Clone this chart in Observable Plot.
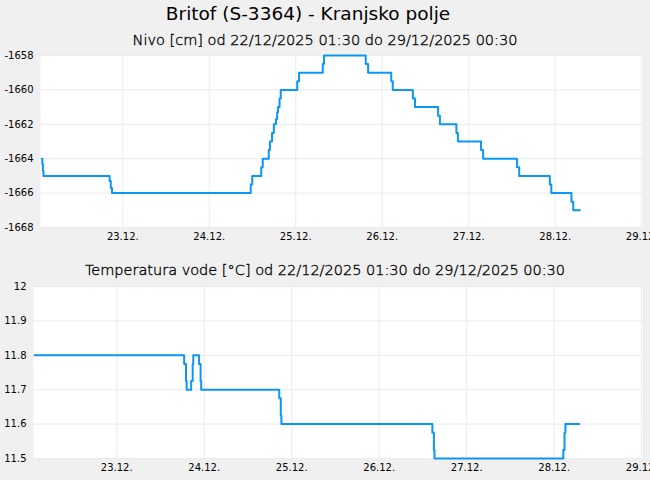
<!DOCTYPE html>
<html>
<head>
<meta charset="utf-8">
<script src="https://cdn.jsdelivr.net/npm/d3@7"></script>
<script src="https://cdn.jsdelivr.net/npm/@observablehq/plot@0.6"></script>
<style>
  html, body { margin: 0; padding: 0; background: #f0f0f0; }
  #wrap { position: relative; width: 650px; height: 480px; overflow: hidden; font-family: "DejaVu Sans", sans-serif; }
  .title { position: absolute; left: 0; top: 0; width: 616px; height: 28px; line-height: 28px; text-align: center; font-size: 18.5px; color: #000; }
  .sub { position: absolute; left: 0; width: 650px; height: 24px; line-height: 24px; text-align: center; font-size: 14.5px; color: #000; font-weight: 200; -webkit-text-stroke: 0.35px #000; }
  .chart { position: absolute; left: 0; }
</style>
</head>
<body>
<div id="wrap">
  <div class="title">Britof (S-3364) - Kranjsko polje</div>
  <div class="sub" style="top:28px">Nivo [cm] od 22/12/2025 01:30 do 29/12/2025 00:30</div>
  <div class="chart" id="c1" style="top:45px"></div>
  <div class="sub" style="top:258px">Temperatura vode [°C] od 22/12/2025 01:30 do 29/12/2025 00:30</div>
  <div class="chart" id="c2" style="top:276px"></div>
</div>
<script>
// ---- data ----
const dayTicks = ["2025-12-23","2025-12-24","2025-12-25","2025-12-26","2025-12-27","2025-12-28","2025-12-29"];
const xDomain = ["2025-12-22T01:10","2025-12-29T00:30"];

const nivoTicks = [-1668,-1666,-1664,-1662,-1660,-1658];
const nivoTime = [
  "2025-12-22T01:30","2025-12-22T01:40","2025-12-22T01:50","2025-12-22T02:00",
  "2025-12-22T20:20","2025-12-22T20:40","2025-12-22T21:00",
  "2025-12-24T11:30","2025-12-24T11:55",
  "2025-12-24T14:25","2025-12-24T14:50",
  "2025-12-24T16:30","2025-12-24T16:50",
  "2025-12-24T17:25","2025-12-24T17:55",
  "2025-12-24T18:30","2025-12-24T18:50","2025-12-24T19:05",
  "2025-12-24T19:30","2025-12-24T19:50",
  "2025-12-25T00:25","2025-12-25T00:55",
  "2025-12-25T07:30","2025-12-25T07:50",
  "2025-12-25T19:25","2025-12-25T20:05",
  "2025-12-26T02:30","2025-12-26T02:55",
  "2025-12-26T08:30","2025-12-26T09:05",
  "2025-12-26T15:30","2025-12-26T16:00",
  "2025-12-26T20:35","2025-12-26T21:00",
  "2025-12-27T03:25","2025-12-27T04:00",
  "2025-12-27T13:25","2025-12-27T14:00",
  "2025-12-27T22:30","2025-12-27T22:55",
  "2025-12-28T04:30","2025-12-28T05:00",
  "2025-12-28T06:50"
];
const nivoValue = [
  -1664,-1664.3,-1664.7,-1665,
  -1665.3,-1665.7,-1666,
  -1665.5,-1665,
  -1664.5,-1664,
  -1663.5,-1663,
  -1662.5,-1662,
  -1661.7,-1661.3,-1661,
  -1660.5,-1660,
  -1659.5,-1659,
  -1658.5,-1658,
  -1658.5,-1659,
  -1659.5,-1660,
  -1660.5,-1661,
  -1661.5,-1662,
  -1662.5,-1663,
  -1663.5,-1664,
  -1664.5,-1665,
  -1665.5,-1666,
  -1666.5,-1667,
  -1667
];

const tempTicks = [11.5,11.6,11.7,11.8,11.9,12];
const tempTime = [
  "2025-12-22T01:30",
  "2025-12-23T18:30","2025-12-23T19:00","2025-12-23T19:10",
  "2025-12-23T20:25","2025-12-23T20:50","2025-12-23T21:00",
  "2025-12-23T22:35","2025-12-23T23:00","2025-12-23T23:10",
  "2025-12-24T20:35","2025-12-24T21:00","2025-12-24T21:10",
  "2025-12-26T14:35","2025-12-26T15:00","2025-12-26T15:10",
  "2025-12-28T02:30","2025-12-28T02:50","2025-12-28T03:05",
  "2025-12-28T06:50"
];
const tempValue = [
  11.8,
  11.775,11.725,11.7,
  11.725,11.775,11.8,
  11.775,11.725,11.7,
  11.675,11.625,11.6,
  11.575,11.525,11.5,
  11.525,11.575,11.6,
  11.6
];

// ---- helpers ----
const utc = s => new Date(s.length === 10 ? s + "T00:00Z" : s + "Z");
const days = dayTicks.map(utc);
const dom = xDomain.map(utc);
const lineColor = "#0a98f5";
const gridColor = "#ebebeb";

function makeChart(times, values, yTicks, yDomain, marginLeft, fmt) {
  const data = times.map((t, i) => ({t: utc(t), v: values[i]}));
  return Plot.plot({
    width: 650,
    height: 204,
    marginTop: 10,
    marginBottom: 22,
    marginLeft,
    marginRight: 7,
    style: {fontFamily: "DejaVu Sans", fontSize: "10px", color: "#000", background: "transparent", overflow: "visible"},
    x: {type: "utc", domain: dom},
    y: {domain: yDomain},
    marks: [
      Plot.frame({fill: "white", stroke: null}),
      Plot.gridY(yTicks, {stroke: gridColor, strokeOpacity: 1}),
      Plot.gridX(days, {stroke: gridColor, strokeOpacity: 1}),
      Plot.ruleX([dom[1]], {stroke: gridColor, strokeOpacity: 1}),
      Plot.axisY({ticks: yTicks, tickSize: 0, tickPadding: 7, tickFormat: fmt, label: null}),
      Plot.axisX({ticks: days, tickSize: 0, tickPadding: 5, tickFormat: d3.utcFormat("%d.%m."), label: null}),
      Plot.line(data, {x: "t", y: "v", curve: "step-after", stroke: lineColor, strokeWidth: 2})
    ]
  });
}

document.getElementById("c1").appendChild(
  makeChart(nivoTime, nivoValue, nivoTicks, [-1668, -1658], 40, d => String(d))
);
document.getElementById("c2").appendChild(
  makeChart(tempTime, tempValue, tempTicks, [11.5, 12], 33, d => String(+d.toFixed(1)))
);
</script>
</body>
</html>
